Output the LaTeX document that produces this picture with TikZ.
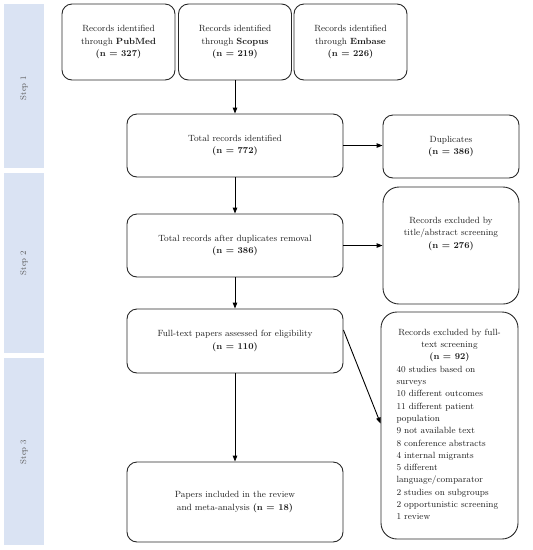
\documentclass[tikz,border=0pt]{standalone}
\usepackage{fontspec}
\usetikzlibrary{arrows.meta,calc}
\definecolor{band}{RGB}{218,227,243}
\definecolor{bandtxt}{RGB}{95,95,95}
\definecolor{edge}{RGB}{40,40,40}
\definecolor{txt}{RGB}{30,30,30}
\begin{document}
\begin{tikzpicture}[x=1pt,y=-1pt,
  every node/.style={font=\fontsize{9}{12.5}\selectfont, text=txt},
  box/.style={draw=edge, line width=0.9pt, rounded corners=10pt, align=center, inner sep=0pt},
  tallbox/.style={box, rounded corners=16pt},
  bandbox/.style={fill=band, draw=none, inner sep=0pt, minimum width=40pt},
  steplabel/.style={rotate=90, text=bandtxt, font=\fontsize{8.5}{10}\selectfont},
  arr/.style={-{Triangle[length=6pt,width=4.5pt]}, line width=0.9pt, draw=black}
]
\useasboundingbox (0,0) rectangle (533,550);
% step bands
\node[bandbox, minimum height=164pt] (b1) at (24,86) {};
\node[bandbox, minimum height=180pt] (b2) at (24,263) {};
\node[bandbox, minimum height=187pt] (b3) at (24,451.5) {};
\node[steplabel] (s1) at (24,88) {Step 1};
\node[steplabel] (s2) at (24,263) {Step 2};
\node[steplabel] (s3) at (24,452) {Step 3};
% boxes
\node[box, minimum width=113pt, minimum height=76pt] (pub) at (118.5,42) {Records identified\\through \textbf{PubMed}\\\textbf{(n = 327)}};
\node[box, minimum width=113pt, minimum height=76pt] (sco) at (235,42) {Records identified\\through \textbf{Scopus}\\\textbf{(n = 219)}};
\node[box, minimum width=113pt, minimum height=76pt] (emb) at (350.5,42) {Records identified\\through \textbf{Embase}\\\textbf{(n = 226)}};
\node[box, minimum width=216pt, minimum height=63pt] (tot) at (235,145.5) {Total records identified\\\textbf{(n = 772)}};
\node[box, minimum width=136pt, minimum height=63pt] (dup) at (451,146.5) {Duplicates\\\textbf{(n = 386)}};
\node[box, minimum width=216pt, minimum height=63pt] (aft) at (235,245.5) {Total records after duplicates removal\\\textbf{(n = 386)}};
\node[tallbox, minimum width=136pt, minimum height=117pt] (exa) at (451,245.5) {\begin{minipage}[c][117pt][t]{130pt}\centering\vspace*{30pt}Records excluded by\\title/abstract screening\\\textbf{(n = 276)}\end{minipage}};
\node[box, minimum width=216pt, minimum height=64pt] (ful) at (235,341) {Full-text papers assessed for eligibility\\\textbf{(n = 110)}};
\node[tallbox, minimum width=137pt, minimum height=227pt] (exf) at (449.5,425.5) {\begin{minipage}[c][227pt][t]{106pt}\fontsize{9}{12.3}\selectfont\vspace*{17pt}%
\centering Records excluded by full-\\text screening\\\textbf{(n = 92)}\par
\raggedright 40 studies based on\\surveys\\10 different outcomes\\11 different patient\\population\\9 not available text\\8 conference abstracts\\4 internal migrants\\5 different\\language/comparator\\2 studies on subgroups\\2 opportunistic screening\\1 review\end{minipage}};
\node[box, minimum width=216pt, minimum height=80pt] (inc) at (235,502) {Papers included in the review\\and meta-analysis \textbf{(n = 18)}};
% connectors
\draw[arr] (sco.south) -- (tot.north);
\draw[arr] (tot.south) -- (aft.north);
\draw[arr] (aft.south) -- (ful.north);
\draw[arr] (ful.south) -- (inc.north);
\draw[arr] (tot.east) -- (tot.east -| dup.west);
\draw[arr] (aft.east) -- (exa.west);
\draw[arr] ($(ful.east)+(0,-11)$) -- ($(exf.west)+(0,-2)$);
\end{tikzpicture}
\end{document}
